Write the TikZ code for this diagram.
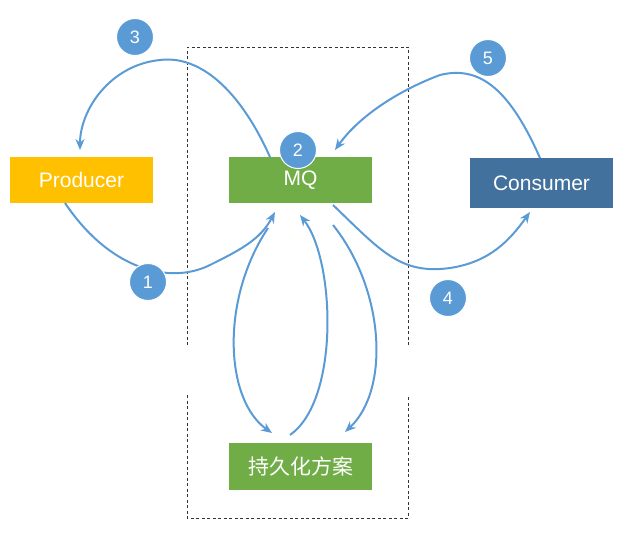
\documentclass[tikz,border=0pt]{standalone}
\usepackage{fontspec}
\setmainfont{Liberation Sans}
\newfontfamily\cjk{Noto Sans CJK SC}
\usetikzlibrary{arrows.meta}
\definecolor{myblue}{HTML}{5B9BD5}
\definecolor{mygreen}{HTML}{70AD47}
\definecolor{myorange}{HTML}{FFC000}
\definecolor{mydark}{HTML}{41719C}
\begin{document}
\begin{tikzpicture}[x=1pt,y=-1pt,
 box/.style={draw=none,minimum width=143pt,minimum height=46pt,text=white,font=\fontsize{21}{23}\selectfont},
 num/.style={circle,fill=myblue,draw=white,line width=1pt,minimum size=37pt,inner sep=0pt,text=white,font=\fontsize{18}{20}\selectfont},
 arr/.style={draw=myblue,line width=2pt,-{Stealth[length=11pt,width=9pt]}},
 dbox/.style={draw=black!80,line width=1pt,dash pattern=on 3pt off 2.5pt}]
\useasboundingbox (0,0) rectangle (625,538);
\draw[dbox] (187,345) -- (187,47) -- (408,47) -- (408,345);
\draw[dbox] (187,395) -- (187,518) -- (408,518) -- (408,395);
\node[box,fill=myorange] (prod) at (81.5,180) {Producer};
\node[box,fill=mygreen] (mq) at (300.5,180) {MQ};
\node[box,fill=mydark,minimum height=50pt] (cons) at (541.5,183) {Consumer};
\node[box,fill=mygreen,minimum height=47pt] (pers) at (300.5,466) {\cjk 持久化方案};
\coordinate (p1) at (65,203); \coordinate (m1) at (275,212);
\draw[arr] (p1) .. controls (110,270) and (170,285) .. (210,265) .. controls (240,250) and (260,240) .. (m1);
\coordinate (m3) at (270,157); \coordinate (p3) at (80,150);
\draw[arr] (m3) .. controls (240,90) and (200,55) .. (160,60) .. controls (110,65) and (80,110) .. (p3);
\coordinate (c5) at (540,158); \coordinate (m5) at (335,150);
\draw[arr] (c5) .. controls (510,90) and (480,65) .. (440,75) .. controls (400,90) and (360,115) .. (m5);
\coordinate (m4) at (333,205); \coordinate (c4) at (530,212);
\draw[arr] (m4) .. controls (380,250) and (400,275) .. (450,268) .. controls (490,262) and (510,240) .. (c4);
\coordinate (ma) at (268,228); \coordinate (pa) at (272,433);
\draw[arr] (ma) .. controls (220,300) and (225,400) .. (pa);
\coordinate (pb) at (290,435); \coordinate (mb) at (300,215);
\draw[arr] (pb) .. controls (340,400) and (335,260) .. (mb);
\coordinate (mc) at (333,225); \coordinate (pc) at (345,432);
\draw[arr] (mc) .. controls (385,290) and (390,390) .. (pc);
\node[num] (n1) at (148,282) {1};
\node[num] (n2) at (298,150) {2};
\node[num] (n3) at (135,37) {3};
\node[num] (n4) at (448,298) {4};
\node[num] (n5) at (488,58) {5};
\end{tikzpicture}
\end{document}
